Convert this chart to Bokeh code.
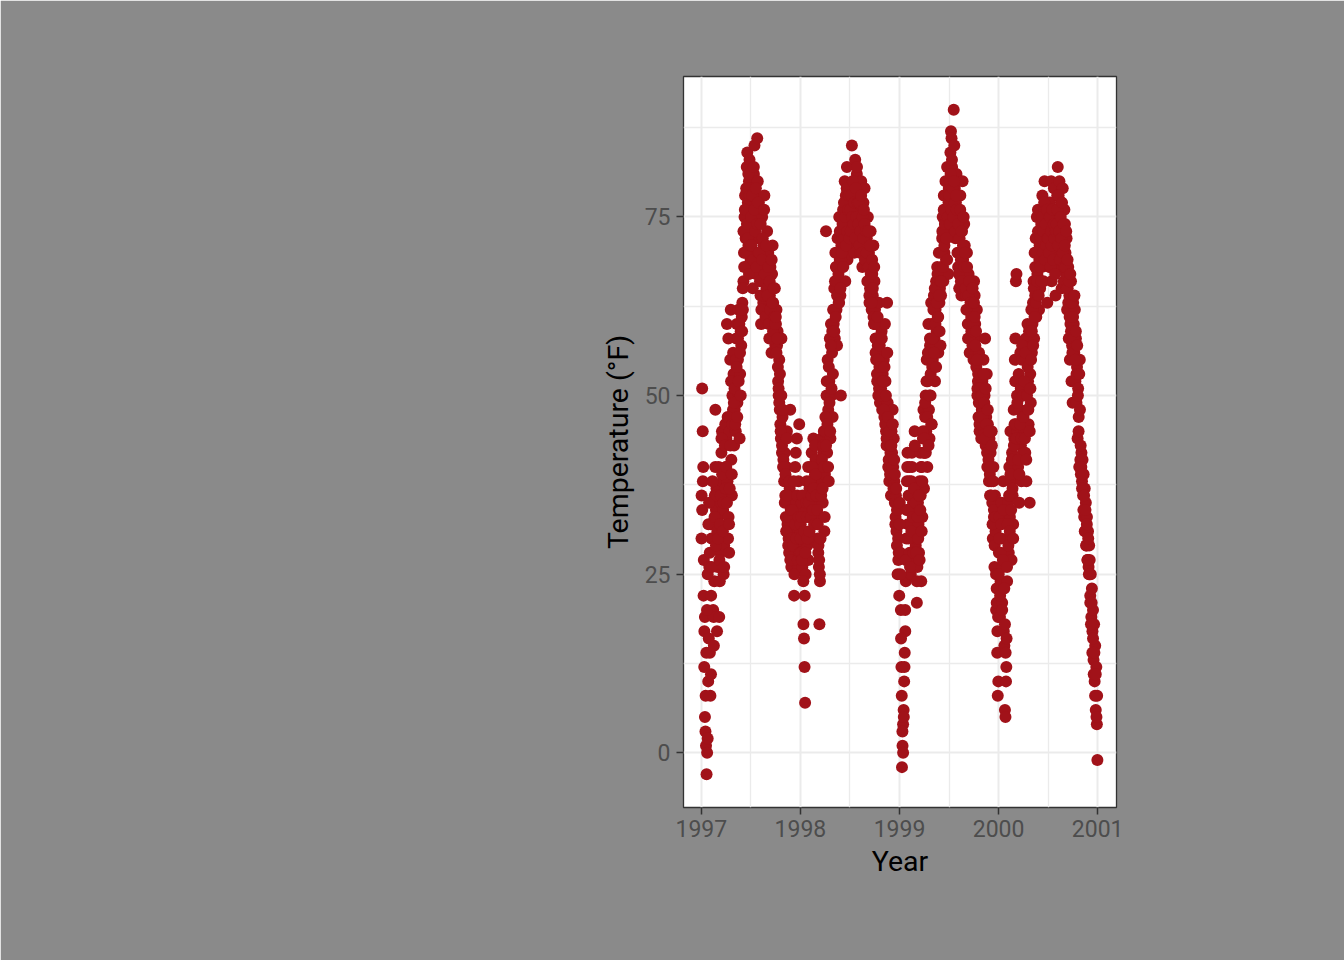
from bokeh.plotting import figure
from bokeh.models import Range1d, FixedTicker, ColumnDataSource
from bokeh.embed import file_html
from bokeh.resources import INLINE

# Temperature readings (°F): set A has 15 per month,
# set B has 12 per month (interleaved within each month).
temps_1997 = [
    36, 51, 45, 40, 27, 17, 19, 3, 1, -3, 0, 2, 10, 16, 26,
    14, 8, 11, 30, 35, 32, 20, 19, 24, 36, 48, 34, 37, 17, 26,
    33, 37, 19, 24, 28, 35, 42, 45, 38, 34, 25, 29, 36, 46, 40,
    44, 60, 38, 30, 33, 28, 45, 55, 62, 41, 36, 50, 48, 53, 43,
    48, 52, 45, 58, 60, 49, 55, 62, 50, 44, 53, 59, 57, 61, 63,
    62, 66, 70, 75, 78, 72, 68, 82, 84, 77, 71, 80, 83, 74, 69,
    73, 79, 76, 65, 70, 81, 85, 78, 74, 67, 72, 86, 80, 75, 77,
    68, 72, 64, 60, 70, 75, 66, 63, 71, 78, 67, 62, 69, 65, 73,
    66, 70, 62, 58, 64, 68, 60, 56, 67, 71, 63, 59, 61, 65, 57,
    60, 62, 57, 59, 52, 50, 55, 48, 46, 44, 58, 42, 47, 40, 45,
    38, 42, 36, 33, 40, 45, 32, 35, 30, 28, 37, 48, 34, 26, 31,
    36, 33, 27, 22, 30, 40, 35, 29, 44, 32, 26, 38, 28, 34, 31,
]
temps_1997_b = [
    30, 34, 38, 22, 12, 5, 8, 14, 20, 25, 32, 35,
    28, 32, 22, 26, 38, 30, 15, 33, 40, 29, 36, 31,
    30, 40, 27, 32, 36, 44, 39, 31, 35, 26, 43, 37,
    40, 35, 47, 58, 32, 37, 43, 52, 39, 46, 56, 49,
    51, 46, 55, 54, 47, 58, 52, 60, 56, 50, 62, 59,
    65, 73, 68, 76, 70, 79, 74, 72, 81, 67, 78, 71,
    75, 71, 78, 69, 82, 76, 73, 79, 68, 74, 77, 70,
    70, 66, 74, 62, 69, 72, 64, 76, 67, 61, 71, 65,
    64, 68, 60, 66, 62, 58, 69, 63, 59, 65, 61, 60,
    61, 56, 58, 54, 51, 49, 53, 45, 50, 43, 48, 41,
    40, 35, 39, 31, 44, 36, 29, 33, 38, 27, 34, 30,
    34, 29, 38, 25, 32, 42, 30, 36, 27, 33, 46, 28,
]
temps_1998 = [
    32, 28, 35, 26, 30, 18, 16, 12, 7, 25, 34, 38, 29, 36, 27,
    33, 37, 35, 40, 30, 42, 38, 34, 44, 36, 32, 39, 41, 35, 37,
    36, 30, 28, 26, 18, 24, 33, 40, 44, 38, 35, 42, 45, 31, 39,
    45, 73, 50, 42, 55, 48, 38, 52, 58, 44, 60, 50, 56, 47, 62,
    60, 65, 58, 70, 68, 62, 57, 72, 66, 63, 75, 69, 64, 50, 71,
    68, 72, 76, 70, 74, 80, 66, 78, 73, 82, 69, 75, 71, 77, 79,
    74, 79, 76, 85, 72, 80, 77, 70, 75, 83, 78, 73, 81, 76, 74,
    75, 78, 72, 70, 76, 80, 73, 68, 74, 77, 71, 79, 69, 75, 72,
    72, 68, 75, 66, 70, 63, 65, 73, 69, 62, 67, 64, 71, 60, 66,
    62, 58, 55, 60, 52, 57, 50, 63, 54, 49, 56, 51, 59, 48, 53,
    50, 55, 47, 60, 52, 45, 43, 63, 49, 40, 46, 38, 44, 42, 36,
    45, 42, 48, 40, 44, 38, 35, 32, 36, 31, 34, 25, 30, 28, 22,
]
temps_1998_b = [
    30, 33, 27, 36, 24, 31, 22, 28, 35, 33, 30, 40,
    35, 31, 38, 33, 36, 40, 34, 37, 32, 43, 39, 36,
    34, 32, 29, 27, 25, 30, 36, 41, 37, 43, 40, 33,
    47, 43, 52, 46, 40, 54, 49, 45, 57, 51, 59, 53,
    62, 59, 66, 61, 68, 64, 70, 67, 63, 73, 65, 69,
    70, 74, 68, 77, 72, 75, 71, 79, 73, 76, 78, 72,
    76, 73, 78, 75, 80, 74, 77, 72, 79, 75, 82, 77,
    74, 77, 71, 73, 78, 70, 75, 72, 76, 74, 69, 73,
    70, 66, 73, 68, 64, 71, 67, 63, 69, 65, 61, 68,
    60, 56, 58, 53, 61, 55, 51, 57, 54, 50, 58, 52,
    52, 48, 54, 46, 50, 44, 56, 47, 41, 45, 39, 43,
    43, 40, 46, 37, 41, 39, 33, 37, 29, 34, 27, 32,
]
temps_1999 = [
    35, 28, 20, 12, -2, 1, 4, 6, 10, 14, 17, 24, 30, 38, 42,
    32, 36, 40, 28, 34, 25, 38, 42, 30, 35, 27, 37, 45, 33, 29,
    30, 21, 26, 35, 32, 28, 38, 42, 36, 24, 40, 33, 44, 48, 37,
    42, 47, 50, 45, 55, 40, 52, 60, 48, 44, 57, 50, 63, 46, 54,
    55, 60, 64, 58, 52, 62, 66, 59, 68, 61, 56, 70, 63, 65, 57,
    64, 68, 72, 75, 66, 78, 70, 74, 80, 69, 76, 82, 73, 67, 79,
    76, 80, 84, 87, 86, 82, 78, 74, 90, 85, 79, 72, 77, 81, 75,
    72, 68, 75, 65, 70, 78, 66, 64, 73, 80, 69, 67, 74, 71, 65,
    66, 64, 70, 62, 58, 67, 60, 56, 65, 63, 59, 61, 57, 64, 55,
    66, 64, 60, 58, 54, 62, 50, 52, 47, 56, 45, 53, 49, 44, 48,
    52, 48, 55, 45, 50, 58, 43, 47, 53, 40, 46, 42, 38, 44, 36,
    42, 38, 45, 35, 30, 40, 33, 26, 36, 31, 20, 23, 14, 8, 10,
]
temps_1999_b = [
    32, 25, 16, 8, 3, 0, 5, 12, 20, 27, 34, 40,
    34, 30, 38, 26, 36, 31, 40, 33, 28, 37, 43, 35,
    28, 24, 33, 30, 36, 27, 34, 40, 31, 38, 45, 42,
    44, 49, 42, 52, 47, 56, 43, 50, 58, 53, 46, 60,
    58, 62, 56, 65, 60, 54, 63, 67, 61, 64, 59, 66,
    66, 70, 73, 68, 76, 71, 74, 78, 72, 69, 75, 77,
    78, 74, 81, 76, 83, 79, 75, 80, 77, 73, 78, 76,
    70, 74, 67, 72, 76, 69, 73, 66, 71, 75, 68, 70,
    65, 62, 68, 60, 64, 66, 58, 63, 61, 59, 65, 60,
    63, 61, 57, 59, 55, 51, 53, 49, 46, 51, 47, 50,
    50, 47, 53, 49, 44, 51, 46, 42, 48, 41, 45, 39,
    40, 36, 43, 32, 38, 34, 29, 33, 25, 21, 17, 19,
]
temps_2000 = [
    28, 33, 19, 24, 30, 35, 21, 26, 38, 17, 15, 6, 5, 10, 16,
    24, 30, 35, 28, 40, 33, 45, 38, 27, 42, 36, 32, 48, 44, 55,
    58, 66, 67, 50, 45, 40, 52, 35, 48, 56, 43, 38, 55, 47, 42,
    50, 45, 55, 42, 58, 38, 48, 60, 52, 46, 57, 35, 53, 49, 62,
    56, 60, 63, 66, 58, 70, 64, 72, 61, 75, 67, 76, 68, 62, 71,
    65, 70, 74, 68, 78, 72, 66, 76, 80, 71, 69, 75, 73, 63, 77,
    70, 74, 68, 77, 72, 80, 66, 73, 75, 69, 79, 71, 76, 64, 72,
    72, 78, 82, 75, 70, 80, 68, 74, 77, 65, 73, 79, 71, 66, 76,
    74, 70, 67, 72, 62, 65, 68, 58, 64, 55, 60, 66, 52, 57, 49,
    63, 60, 56, 62, 52, 58, 49, 54, 44, 51, 47, 40, 55, 41, 39,
    42, 38, 41, 36, 39, 33, 37, 31, 35, 29, 33, 27, 31, 26, 29,
    27, 22, 25, 19, 23, 17, 20, 13, 18, 10, 15, 6, 12, 4, -1,
]
temps_2000_b = [
    25, 30, 22, 28, 32, 20, 27, 34, 23, 18, 14, 12,
    26, 32, 29, 36, 31, 39, 34, 41, 37, 30, 43, 46,
    52, 46, 44, 49, 41, 53, 39, 46, 51, 44, 57, 50,
    47, 52, 44, 56, 41, 50, 54, 48, 59, 45, 51, 55,
    59, 62, 57, 65, 61, 68, 63, 70, 66, 73, 64, 69,
    68, 72, 66, 75, 70, 73, 77, 69, 74, 71, 76, 72,
    72, 70, 75, 68, 73, 71, 76, 69, 74, 72, 67, 73,
    74, 76, 71, 78, 73, 69, 75, 72, 77, 70, 74, 68,
    71, 68, 73, 65, 69, 63, 66, 61, 67, 59, 63, 56,
    61, 58, 64, 55, 59, 53, 57, 50, 45, 53, 48, 43,
    40, 37, 39, 34, 36, 31, 34, 29, 32, 27, 30, 25,
    25, 21, 18, 21, 14, 16, 11, 14, 8, 11, 5, 8,
]
years = [1997, 1998, 1999, 2000]
set_a = [temps_1997, temps_1998, temps_1999, temps_2000]
set_b = [temps_1997_b, temps_1998_b, temps_1999_b, temps_2000_b]

x_ticks = [1997, 1998, 1999, 2000, 2001]
x_minor = [1997.5, 1998.5, 1999.5, 2000.5]
y_ticks = [0, 25, 50, 75]
y_minor = [12.5, 37.5, 62.5, 87.5]

xs, ys = [], []
for yr, a, b in zip(years, set_a, set_b):
    for vals, n, off in ((a, 15, 0.5), (b, 12, 0.25)):
        for i, v in enumerate(vals):
            m, k = divmod(i, n)
            xs.append(yr + (m + (k + off) / n) / 12.0)
            ys.append(v)
src = ColumnDataSource(dict(x=xs, y=ys))

BG = "#8A8A8A"
p = figure(width=1344, height=960, output_backend="svg", toolbar_location=None,
           x_range=Range1d(1996.82, 2001.19), y_range=Range1d(-7.65, 94.65),
           min_border_left=683, min_border_right=228, min_border_top=76,
           min_border_bottom=153)
p.border_fill_color = BG
p.background_fill_color = "white"
p.outline_line_color = "#333333"
p.outline_line_width = 1.3

p.scatter("x", "y", source=src, size=12, fill_color="#A11219", line_color="#A11219",
          line_width=0)

p.xaxis.ticker = FixedTicker(ticks=x_ticks, minor_ticks=x_minor)
p.yaxis.ticker = FixedTicker(ticks=y_ticks, minor_ticks=y_minor)
p.xaxis.major_label_overrides = {t: str(t) for t in x_ticks}

for ax in (p.xaxis, p.yaxis):
    ax.axis_line_color = None
    ax.major_tick_line_color = "#333333"
    ax.major_tick_line_width = 1.5
    ax.major_tick_out = 7
    ax.major_tick_in = 0
    ax.minor_tick_line_color = None
    ax.major_label_text_font = "Roboto"
    ax.major_label_text_font_size = "23px"
    ax.major_label_text_color = "#4D4D4D"
    ax.axis_label_text_font = "Roboto"
    ax.axis_label_text_font_size = "28.5px"
    ax.axis_label_text_font_style = "normal"
    ax.axis_label_text_color = "black"

p.xaxis.axis_label = "Year"
p.yaxis.axis_label = "Temperature (°F)"
p.xaxis.major_label_standoff = 5
p.yaxis.major_label_standoff = 6
p.xaxis.axis_label_standoff = 5
p.yaxis.axis_label_standoff = 7

for g in (p.xgrid, p.ygrid):
    g.grid_line_color = "#EBEBEB"
    g.grid_line_width = 2
    g.minor_grid_line_color = "#EBEBEB"
    g.minor_grid_line_width = 1.3

open("out.html", "w").write(file_html(p, INLINE))
